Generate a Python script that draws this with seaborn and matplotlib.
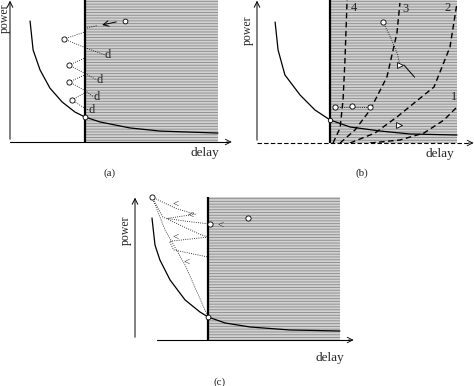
import numpy as np
import matplotlib
matplotlib.use('Agg')
import matplotlib.pyplot as plt
import seaborn as sns
import pandas as pd

sns.set_style('white')
plt.rcParams['font.family'] = ['Liberation Serif', 'DejaVu Serif']
plt.rcParams['hatch.linewidth'] = 0.7

# ---- data (delay, power) in panel units, y-axis at 0, x-axis at 0
# panel (a)
a_curve_x = [0.92, 1.06, 1.38, 1.83, 2.39, 2.98, 3.44, 4.13, 5.50, 6.88, 9.54]
a_curve_y = [8.52, 6.48, 5.07, 3.80, 2.82, 2.11, 1.76, 1.41, 0.99, 0.77, 0.63]
a_bound = 3.44
a_right = 9.54
a_circ_x = [2.48, 2.71, 2.71, 2.84]
a_circ_y = [7.25, 5.42, 4.23, 2.96]
a_d_x = [4.50, 4.13, 3.99, 3.76]
a_d_y = [6.13, 4.37, 3.17, 2.25]

# panel (b)
b_curve_x = [0.85, 0.99, 1.31, 2.02, 2.72, 3.43, 4.37, 5.77, 7.18, 9.39]
b_curve_y = [8.46, 6.50, 4.76, 3.36, 2.31, 1.61, 1.12, 0.84, 0.63, 0.56]
b_bound = 3.43
b_right = 9.39
b_dash = {
    '4': ([3.57, 3.90, 4.04, 4.13, 4.23], [0, 1.05, 3.01, 5.80, 10.0]),
    '3': ([3.90, 4.60, 5.31, 6.10, 6.57, 6.71], [0, 0.91, 2.31, 4.62, 7.69, 9.79]),
    '2': ([4.37, 5.54, 6.57, 8.31, 9.06, 9.39], [0, 0.70, 1.82, 3.92, 6.71, 9.79]),
    '1': ([5.31, 6.71, 7.84, 8.78, 9.39], [0, 0.21, 0.70, 1.61, 2.52]),
}
b_label_x = [4.55, 6.95, 8.97, 9.25]
b_label_y = [9.44, 9.37, 9.44, 3.22]
b_labels = ['4', '3', '2', '1']
b_circ_x = [3.66, 4.46, 5.31, 5.92]
b_circ_y = [2.52, 2.59, 2.52, 8.46]

# panel (c)
c_curve_x = [0.79, 0.93, 1.16, 1.63, 2.33, 3.02, 3.40, 4.19, 5.35, 7.21, 9.53]
c_curve_y = [8.53, 6.64, 5.59, 4.20, 2.80, 1.96, 1.61, 1.19, 0.91, 0.70, 0.63]
c_bound = 3.40
c_right = 9.53
c_circ_x = [0.79, 3.49, 5.26]
c_circ_y = [10.0, 8.11, 8.53]

fig = plt.figure(figsize=(4.74, 3.86), dpi=100)
W, H = 474, 386


def make_ax(left, bottom, w, h):
    ax = fig.add_axes([left / W, 1 - bottom / H, w / W, h / H])
    ax.set_xlim(0, 10)
    ax.set_ylim(0, 10)
    ax.axis('off')
    return ax


def frame(ax, bound, right, power_x, power_y, delay_x, delay_y, x0=0, xdash=False):
    ax.axvspan(bound, right, ymin=0, ymax=1, facecolor='#d2d2d2',
               hatch='------', edgecolor='#929292', lw=0, zorder=0)
    ax.plot([bound, bound], [0, 10], color='k', lw=1.6, zorder=3)
    ls = (0, (4, 2)) if xdash else '-'
    ax.plot([x0, 10], [0, 0], color='k', lw=0.8, ls=ls, clip_on=False, zorder=3)
    ax.annotate('', xy=(10.3, 0), xytext=(9.8, 0),
                arrowprops=dict(arrowstyle='->', lw=0.6, color='k'),
                annotation_clip=False)
    ax.annotate('', xy=(0, 10.15), xytext=(0, 0),
                arrowprops=dict(arrowstyle='->', lw=0.7, color='k'),
                annotation_clip=False)
    ax.text(power_x, power_y, 'power', rotation=90, ha='center', va='center', fontsize=8.5)
    ax.text(delay_x, delay_y, 'delay', ha='center', va='center', fontsize=9.5)


def curve(ax, xs, ys):
    sns.lineplot(x=xs, y=ys, ax=ax, color='k', lw=0.9, sort=False,
                 estimator=None, zorder=4)


def dots(ax, xs, ys, s=14, marker='o'):
    ax.scatter(xs, ys, s=s, marker=marker, facecolor='white', edgecolor='k',
               lw=0.6, zorder=5, clip_on=False)


# ---- panel (a)
axa = make_ax(10, 142, 218, 142)
frame(axa, a_bound, a_right, -0.24, 8.7, 8.94, -0.75)
curve(axa, a_curve_x, a_curve_y)
dots(axa, a_circ_x, a_circ_y)
dots(axa, [a_bound, 5.28], [1.76, 8.52], s=12)
for cx, cy, dx, dy in zip(a_circ_x, a_circ_y, a_d_x, a_d_y):
    axa.plot([cx, a_bound], [cy, cy + 0.5], color='k', lw=0.6, ls=':', zorder=4)
    axa.plot([cx, a_bound], [cy, cy - 0.6], color='k', lw=0.6, ls=':', zorder=4)
    axa.plot([a_bound, dx - 0.15], [cy - 0.6, dy], color='k', lw=0.6, ls=':', zorder=4)
    axa.text(dx, dy, 'd', fontsize=9, ha='center', va='center', zorder=5)
axa.annotate('', xy=(4.1, 8.2), xytext=(5.0, 8.5),
             arrowprops=dict(arrowstyle='->', lw=0.7, color='k'))
axa.plot([a_bound, 4.0], [8.0, 8.2], color='k', lw=0.6, ls=':')
fig.text(110 / W, 1 - 173 / H, '(a)', ha='center', va='center', fontsize=8)

# ---- panel (b)
axb = make_ax(257, 143, 213, 143)
frame(axb, b_bound, b_right, -0.45, 7.9, 8.6, -0.8, xdash=True)
curve(axb, b_curve_x, b_curve_y)
for k, (xs, ys) in b_dash.items():
    axb.plot(xs, ys, color='k', lw=1.0, ls=(0, (4, 2.5)), zorder=4)
for lx, ly, lab in zip(b_label_x, b_label_y, b_labels):
    axb.text(lx, ly, lab, fontsize=9, ha='center', va='center', zorder=5)
dots(axb, b_circ_x, b_circ_y)
dots(axb, [b_bound], [1.61], s=10)
axb.plot([5.92, 6.3, 6.6, 6.7], [8.46, 7.3, 6.2, 5.5], color='k', lw=0.6, ls=':')
dots(axb, [6.71, 6.67], [5.45, 1.26], s=18, marker='>')
axb.plot([6.9, 7.4], [5.45, 4.6], color='k', lw=0.7)
axb.plot([3.66, 5.31], [2.52, 2.52], color='k', lw=0.6, ls=':')
fig.text(362 / W, 1 - 173 / H, '(b)', ha='center', va='center', fontsize=8)

# ---- panel (c)
axc = make_ax(135, 340, 215, 143)
frame(axc, c_bound, c_right, -0.45, 7.7, 9.07, -1.25, x0=1.02)
curve(axc, c_curve_x, c_curve_y)
dots(axc, c_circ_x, c_circ_y)
dots(axc, [c_bound], [1.61], s=12)
axc.plot([0.79, 1.40, 2.33, 3.40], [10.0, 7.69, 5.24, 1.61], color='k', lw=0.6, ls=':')
axc.plot([0.79, 1.9, 2.8, 1.5, 2.4, 3.49], [10.0, 9.2, 8.8, 8.5, 8.3, 8.11],
         color='k', lw=0.6, ls=':')
axc.plot([0.79, 1.3, 3.0, 3.4], [10.0, 8.6, 7.4, 7.2], color='k', lw=0.6, ls=':')
axc.plot([3.4, 1.6, 1.8, 3.4], [7.2, 6.9, 6.3, 5.8], color='k', lw=0.6, ls=':')
for ax_x, ax_y in [(1.9, 9.5), (2.6, 8.7), (1.9, 7.2), (2.4, 5.4), (4.0, 8.0)]:
    axc.text(ax_x, ax_y, '<', fontsize=8, ha='center', va='center')
fig.text(220 / W, 1 - 382 / H, '(c)', ha='center', va='center', fontsize=8)

fig.savefig('out.png', dpi=100)
